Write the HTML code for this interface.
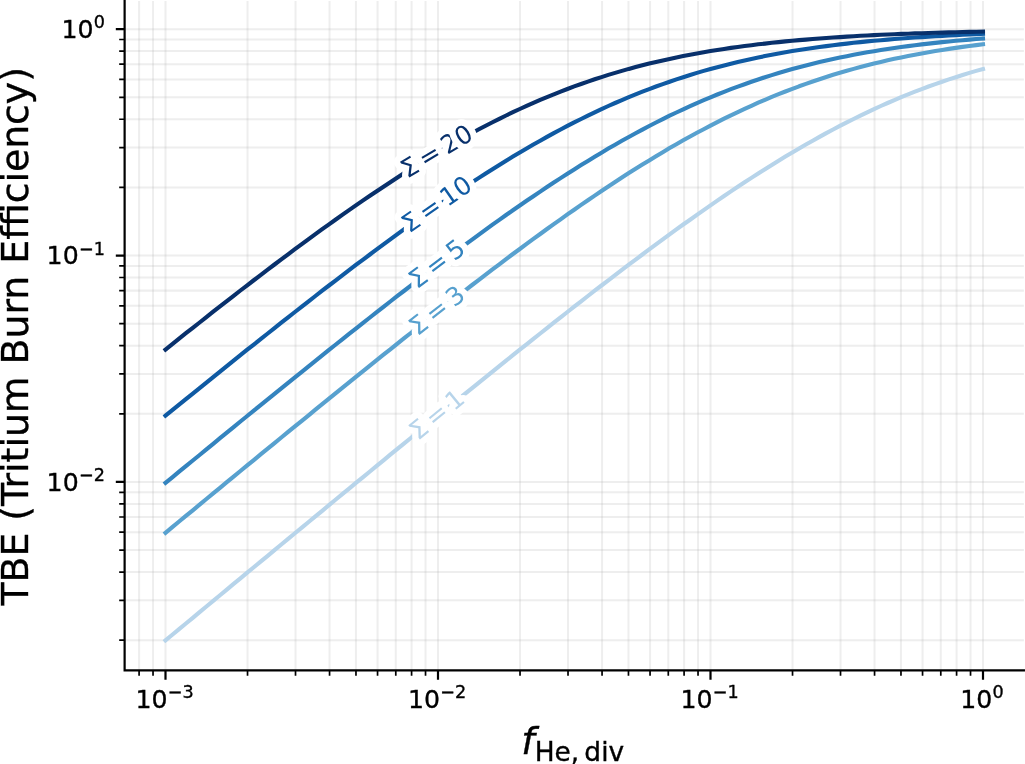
<!DOCTYPE html>
<html><head><meta charset="utf-8"><title>TBE vs f_He,div</title>
<style>html,body{margin:0;padding:0;background:#fff;overflow:hidden}svg{display:block}</style></head>
<body>
<svg width="1025" height="764" viewBox="0 0 1025 764" font-family="'DejaVu Sans','Liberation Sans',sans-serif">
<rect width="1025" height="764" fill="#fff"/>
<defs><clipPath id="ax"><rect x="124.62" y="1.00" width="899.25" height="669.40"/></clipPath></defs>
<path d="M165.50 1.00V670.40M438.00 1.00V670.40M710.50 1.00V670.40M983.00 1.00V670.40M139.09 1.00V670.40M153.03 1.00V670.40M247.53 1.00V670.40M295.52 1.00V670.40M329.56 1.00V670.40M355.97 1.00V670.40M377.55 1.00V670.40M395.79 1.00V670.40M411.59 1.00V670.40M425.53 1.00V670.40M520.03 1.00V670.40M568.02 1.00V670.40M602.06 1.00V670.40M628.47 1.00V670.40M650.05 1.00V670.40M668.29 1.00V670.40M684.09 1.00V670.40M698.03 1.00V670.40M792.53 1.00V670.40M840.52 1.00V670.40M874.56 1.00V670.40M900.97 1.00V670.40M922.55 1.00V670.40M940.79 1.00V670.40M956.59 1.00V670.40M970.53 1.00V670.40" fill="none" stroke="#b0b0b0" stroke-opacity="0.22" stroke-width="2.01"/>
<path d="M124.62 481.95H1023.88M124.62 255.55H1023.88M124.62 29.15H1023.88M124.62 640.20H1023.88M124.62 600.33H1023.88M124.62 572.04H1023.88M124.62 550.10H1023.88M124.62 532.18H1023.88M124.62 517.02H1023.88M124.62 503.89H1023.88M124.62 492.31H1023.88M124.62 413.80H1023.88M124.62 373.93H1023.88M124.62 345.64H1023.88M124.62 323.70H1023.88M124.62 305.78H1023.88M124.62 290.62H1023.88M124.62 277.49H1023.88M124.62 265.91H1023.88M124.62 187.40H1023.88M124.62 147.53H1023.88M124.62 119.24H1023.88M124.62 97.30H1023.88M124.62 79.38H1023.88M124.62 64.22H1023.88M124.62 51.09H1023.88M124.62 39.51H1023.88" fill="none" stroke="#b0b0b0" stroke-opacity="0.22" stroke-width="2.01"/>
<path d="M165.50 670.40v9.31M438.00 670.40v9.31M710.50 670.40v9.31M983.00 670.40v9.31M124.62 481.95h-8.81M124.62 255.55h-8.81M124.62 29.15h-8.81" fill="none" stroke="#000" stroke-width="2.20"/>
<path d="M139.09 670.40v5.44M153.03 670.40v5.44M247.53 670.40v5.44M295.52 670.40v5.44M329.56 670.40v5.44M355.97 670.40v5.44M377.55 670.40v5.44M395.79 670.40v5.44M411.59 670.40v5.44M425.53 670.40v5.44M520.03 670.40v5.44M568.02 670.40v5.44M602.06 670.40v5.44M628.47 670.40v5.44M650.05 670.40v5.44M668.29 670.40v5.44M684.09 670.40v5.44M698.03 670.40v5.44M792.53 670.40v5.44M840.52 670.40v5.44M874.56 670.40v5.44M900.97 670.40v5.44M922.55 670.40v5.44M940.79 670.40v5.44M956.59 670.40v5.44M970.53 670.40v5.44M124.62 640.20h-5.44M124.62 600.33h-5.44M124.62 572.04h-5.44M124.62 550.10h-5.44M124.62 532.18h-5.44M124.62 517.02h-5.44M124.62 503.89h-5.44M124.62 492.31h-5.44M124.62 413.80h-5.44M124.62 373.93h-5.44M124.62 345.64h-5.44M124.62 323.70h-5.44M124.62 305.78h-5.44M124.62 290.62h-5.44M124.62 277.49h-5.44M124.62 265.91h-5.44M124.62 187.40h-5.44M124.62 147.53h-5.44M124.62 119.24h-5.44M124.62 97.30h-5.44M124.62 79.38h-5.44M124.62 64.22h-5.44M124.62 51.09h-5.44M124.62 39.51h-5.44" fill="none" stroke="#000" stroke-width="1.70"/>
<polyline points="165.5,640.4 172.3,634.7 179.1,629.1 185.9,623.5 192.8,617.8 199.6,612.2 206.4,606.5 213.2,600.9 220.0,595.2 226.8,589.6 233.6,583.9 240.4,578.3 247.2,572.7 254.1,567.0 260.9,561.4 267.7,555.8 274.5,550.1 281.3,544.5 288.1,538.9 294.9,533.2 301.8,527.6 308.6,522.0 315.4,516.4 322.2,510.8 329.0,505.1 335.8,499.5 342.6,493.9 349.4,488.3 356.2,482.7 363.1,477.1 369.9,471.5 376.7,465.9 383.5,460.3 390.3,454.7 397.1,449.1 403.9,443.6 410.8,438.0 417.6,432.4 424.4,426.9 431.2,421.3 438.0,415.7 444.8,410.2 451.6,404.7 458.4,399.1 465.2,393.6 472.1,388.1 478.9,382.6 485.7,377.1 492.5,371.6 499.3,366.1 506.1,360.6 512.9,355.2 519.8,349.7 526.6,344.3 533.4,338.9 540.2,333.5 547.0,328.1 553.8,322.7 560.6,317.3 567.4,312.0 574.2,306.6 581.1,301.3 587.9,296.0 594.7,290.7 601.5,285.5 608.3,280.3 615.1,275.1 621.9,269.9 628.8,264.7 635.6,259.6 642.4,254.5 649.2,249.4 656.0,244.4 662.8,239.4 669.6,234.4 676.4,229.4 683.2,224.5 690.1,219.7 696.9,214.8 703.7,210.1 710.5,205.3 717.3,200.6 724.1,196.0 730.9,191.4 737.8,186.8 744.6,182.3 751.4,177.9 758.2,173.5 765.0,169.2 771.8,164.9 778.6,160.7 785.4,156.6 792.3,152.5 799.1,148.5 805.9,144.5 812.7,140.7 819.5,136.9 826.3,133.1 833.1,129.5 839.9,125.9 846.8,122.4 853.6,119.0 860.4,115.6 867.2,112.3 874.0,109.1 880.8,106.0 887.6,103.0 894.4,100.1 901.2,97.2 908.1,94.4 914.9,91.7 921.7,89.1 928.5,86.5 935.3,84.1 942.1,81.7 948.9,79.4 955.8,77.2 962.6,75.0 969.4,72.9 976.2,70.9 983.0,69.0" fill="none" stroke="#b7d4ea" stroke-width="4.10" stroke-linecap="square" stroke-linejoin="round" clip-path="url(#ax)"/>
<polyline points="165.5,532.8 172.3,527.1 179.1,521.5 185.9,515.9 192.8,510.3 199.6,504.7 206.4,499.0 213.2,493.4 220.0,487.8 226.8,482.2 233.6,476.6 240.4,471.0 247.2,465.4 254.1,459.8 260.9,454.2 267.7,448.7 274.5,443.1 281.3,437.5 288.1,431.9 294.9,426.4 301.8,420.8 308.6,415.3 315.4,409.7 322.2,404.2 329.0,398.7 335.8,393.1 342.6,387.6 349.4,382.1 356.2,376.6 363.1,371.1 369.9,365.6 376.7,360.2 383.5,354.7 390.3,349.3 397.1,343.8 403.9,338.4 410.8,333.0 417.6,327.6 424.4,322.2 431.2,316.9 438.0,311.5 444.8,306.2 451.6,300.9 458.4,295.6 465.2,290.3 472.1,285.0 478.9,279.8 485.7,274.6 492.5,269.4 499.3,264.3 506.1,259.1 512.9,254.0 519.8,249.0 526.6,243.9 533.4,238.9 540.2,234.0 547.0,229.0 553.8,224.1 560.6,219.3 567.4,214.4 574.2,209.7 581.1,204.9 587.9,200.2 594.7,195.6 601.5,191.0 608.3,186.5 615.1,182.0 621.9,177.5 628.8,173.1 635.6,168.8 642.4,164.6 649.2,160.4 656.0,156.2 662.8,152.2 669.6,148.1 676.4,144.2 683.2,140.3 690.1,136.5 696.9,132.8 703.7,129.2 710.5,125.6 717.3,122.1 724.1,118.7 730.9,115.3 737.8,112.1 744.6,108.9 751.4,105.8 758.2,102.7 765.0,99.8 771.8,96.9 778.6,94.2 785.4,91.5 792.3,88.9 799.1,86.3 805.9,83.9 812.7,81.5 819.5,79.2 826.3,77.0 833.1,74.8 839.9,72.8 846.8,70.8 853.6,68.9 860.4,67.0 867.2,65.2 874.0,63.5 880.8,61.9 887.6,60.3 894.4,58.8 901.2,57.4 908.1,56.0 914.9,54.7 921.7,53.4 928.5,52.2 935.3,51.0 942.1,49.9 948.9,48.9 955.8,47.9 962.6,46.9 969.4,46.0 976.2,45.1 983.0,44.3" fill="none" stroke="#58a1cf" stroke-width="4.10" stroke-linecap="square" stroke-linejoin="round" clip-path="url(#ax)"/>
<polyline points="165.5,482.9 172.3,477.3 179.1,471.7 185.9,466.1 192.8,460.5 199.6,455.0 206.4,449.4 213.2,443.8 220.0,438.2 226.8,432.6 233.6,427.1 240.4,421.5 247.2,416.0 254.1,410.4 260.9,404.9 267.7,399.4 274.5,393.8 281.3,388.3 288.1,382.8 294.9,377.3 301.8,371.8 308.6,366.3 315.4,360.9 322.2,355.4 329.0,349.9 335.8,344.5 342.6,339.1 349.4,333.7 356.2,328.3 363.1,322.9 369.9,317.5 376.7,312.2 383.5,306.8 390.3,301.5 397.1,296.2 403.9,291.0 410.8,285.7 417.6,280.5 424.4,275.3 431.2,270.1 438.0,264.9 444.8,259.8 451.6,254.7 458.4,249.6 465.2,244.6 472.1,239.6 478.9,234.6 485.7,229.6 492.5,224.7 499.3,219.9 506.1,215.0 512.9,210.3 519.8,205.5 526.6,200.8 533.4,196.2 540.2,191.6 547.0,187.0 553.8,182.5 560.6,178.1 567.4,173.7 574.2,169.4 581.1,165.1 587.9,160.9 594.7,156.7 601.5,152.7 608.3,148.6 615.1,144.7 621.9,140.8 628.8,137.0 635.6,133.3 642.4,129.6 649.2,126.0 656.0,122.5 662.8,119.1 669.6,115.7 676.4,112.5 683.2,109.3 690.1,106.2 696.9,103.1 703.7,100.2 710.5,97.3 717.3,94.5 724.1,91.8 730.9,89.2 737.8,86.6 744.6,84.2 751.4,81.8 758.2,79.5 765.0,77.2 771.8,75.1 778.6,73.0 785.4,71.0 792.3,69.1 799.1,67.2 805.9,65.5 812.7,63.7 819.5,62.1 826.3,60.5 833.1,59.0 839.9,57.6 846.8,56.2 853.6,54.8 860.4,53.6 867.2,52.3 874.0,51.2 880.8,50.1 887.6,49.0 894.4,48.0 901.2,47.0 908.1,46.1 914.9,45.2 921.7,44.4 928.5,43.6 935.3,42.9 942.1,42.1 948.9,41.5 955.8,40.8 962.6,40.2 969.4,39.6 976.2,39.0 983.0,38.5" fill="none" stroke="#3484bf" stroke-width="4.10" stroke-linecap="square" stroke-linejoin="round" clip-path="url(#ax)"/>
<polyline points="165.5,415.7 172.3,410.2 179.1,404.7 185.9,399.1 192.8,393.6 199.6,388.1 206.4,382.6 213.2,377.1 220.0,371.6 226.8,366.1 233.6,360.6 240.4,355.2 247.2,349.7 254.1,344.3 260.9,338.9 267.7,333.5 274.5,328.1 281.3,322.7 288.1,317.3 294.9,312.0 301.8,306.6 308.6,301.3 315.4,296.0 322.2,290.7 329.0,285.5 335.8,280.3 342.6,275.1 349.4,269.9 356.2,264.7 363.1,259.6 369.9,254.5 376.7,249.4 383.5,244.4 390.3,239.4 397.1,234.4 403.9,229.4 410.8,224.5 417.6,219.7 424.4,214.8 431.2,210.1 438.0,205.3 444.8,200.6 451.6,196.0 458.4,191.4 465.2,186.8 472.1,182.3 478.9,177.9 485.7,173.5 492.5,169.2 499.3,164.9 506.1,160.7 512.9,156.6 519.8,152.5 526.6,148.5 533.4,144.5 540.2,140.7 547.0,136.9 553.8,133.1 560.6,129.5 567.4,125.9 574.2,122.4 581.1,119.0 587.9,115.6 594.7,112.3 601.5,109.1 608.3,106.0 615.1,103.0 621.9,100.1 628.8,97.2 635.6,94.4 642.4,91.7 649.2,89.1 656.0,86.5 662.8,84.1 669.6,81.7 676.4,79.4 683.2,77.2 690.1,75.0 696.9,72.9 703.7,70.9 710.5,69.0 717.3,67.2 724.1,65.4 730.9,63.7 737.8,62.0 744.6,60.5 751.4,58.9 758.2,57.5 765.0,56.1 771.8,54.8 778.6,53.5 785.4,52.3 792.3,51.1 799.1,50.0 805.9,49.0 812.7,48.0 819.5,47.0 826.3,46.1 833.1,45.2 839.9,44.4 846.8,43.6 853.6,42.8 860.4,42.1 867.2,41.4 874.0,40.8 880.8,40.2 887.6,39.6 894.4,39.0 901.2,38.5 908.1,38.0 914.9,37.5 921.7,37.1 928.5,36.6 935.3,36.2 942.1,35.9 948.9,35.5 955.8,35.2 962.6,34.8 969.4,34.5 976.2,34.2 983.0,33.9" fill="none" stroke="#0f5aa3" stroke-width="4.10" stroke-linecap="square" stroke-linejoin="round" clip-path="url(#ax)"/>
<polyline points="165.5,349.5 172.3,344.1 179.1,338.6 185.9,333.2 192.8,327.8 199.6,322.5 206.4,317.1 213.2,311.7 220.0,306.4 226.8,301.1 233.6,295.8 240.4,290.5 247.2,285.3 254.1,280.0 260.9,274.8 267.7,269.7 274.5,264.5 281.3,259.4 288.1,254.3 294.9,249.2 301.8,244.2 308.6,239.1 315.4,234.2 322.2,229.2 329.0,224.3 335.8,219.5 342.6,214.6 349.4,209.9 356.2,205.1 363.1,200.4 369.9,195.8 376.7,191.2 383.5,186.7 390.3,182.2 397.1,177.7 403.9,173.3 410.8,169.0 417.6,164.7 424.4,160.5 431.2,156.4 438.0,152.3 444.8,148.3 451.6,144.4 458.4,140.5 465.2,136.7 472.1,133.0 478.9,129.3 485.7,125.7 492.5,122.2 499.3,118.8 506.1,115.5 512.9,112.2 519.8,109.0 526.6,105.9 533.4,102.9 540.2,99.9 547.0,97.1 553.8,94.3 560.6,91.6 567.4,89.0 574.2,86.4 581.1,84.0 587.9,81.6 594.7,79.3 601.5,77.1 608.3,74.9 615.1,72.9 621.9,70.9 628.8,68.9 635.6,67.1 642.4,65.3 649.2,63.6 656.0,62.0 662.8,60.4 669.6,58.9 676.4,57.4 683.2,56.1 690.1,54.7 696.9,53.5 703.7,52.2 710.5,51.1 717.3,50.0 724.1,48.9 730.9,47.9 737.8,47.0 744.6,46.0 751.4,45.2 758.2,44.3 765.0,43.6 771.8,42.8 778.6,42.1 785.4,41.4 792.3,40.8 799.1,40.1 805.9,39.6 812.7,39.0 819.5,38.5 826.3,38.0 833.1,37.5 839.9,37.1 846.8,36.6 853.6,36.2 860.4,35.8 867.2,35.5 874.0,35.1 880.8,34.8 887.6,34.5 894.4,34.2 901.2,33.9 908.1,33.7 914.9,33.4 921.7,33.2 928.5,33.0 935.3,32.8 942.1,32.6 948.9,32.4 955.8,32.2 962.6,32.0 969.4,31.9 976.2,31.7 983.0,31.6" fill="none" stroke="#08306b" stroke-width="4.10" stroke-linecap="square" stroke-linejoin="round" clip-path="url(#ax)"/>
<path d="M124.62 1.00V670.40H1023.88" fill="none" stroke="#000" stroke-width="2.20" stroke-linecap="square" stroke-linejoin="miter"/>
<text transform="translate(436.50 414.34) rotate(-39.164)" x="-31.35 -10.58 15.37" y="9" font-size="25.18" fill="#b7d4ea" stroke="#fff" stroke-width="12.59" stroke-linejoin="round" paint-order="stroke fill">Σ=1</text>
<text transform="translate(436.50 310.11) rotate(-38.089)" x="-31.35 -10.58 15.37" y="9" font-size="25.18" fill="#58a1cf" stroke="#fff" stroke-width="12.59" stroke-linejoin="round" paint-order="stroke fill">Σ=3</text>
<text transform="translate(436.50 263.52) rotate(-37.064)" x="-31.35 -10.58 15.37" y="9" font-size="25.18" fill="#3484bf" stroke="#fff" stroke-width="12.59" stroke-linejoin="round" paint-order="stroke fill">Σ=5</text>
<text transform="translate(436.50 203.92) rotate(-34.697)" x="-39.48 -18.71 7.24 23.23" y="9" font-size="25.18" fill="#0f5aa3" stroke="#fff" stroke-width="12.59" stroke-linejoin="round" paint-order="stroke fill">Σ=10</text>
<text transform="translate(436.50 150.93) rotate(-30.687)" x="-39.48 -18.71 7.24 23.23" y="9" font-size="25.18" fill="#08306b" stroke="#fff" stroke-width="12.59" stroke-linejoin="round" paint-order="stroke fill">Σ=20</text>
<g transform="translate(135.41 707.88)" fill="#000" stroke="#000" stroke-width="0.35"><text font-size="25.18" x="0 16.02" y="0">10</text><text font-size="17.63" x="32.28 47.05" y="-9.64">−3</text></g>
<g transform="translate(407.91 707.88)" fill="#000" stroke="#000" stroke-width="0.35"><text font-size="25.18" x="0 16.02" y="0">10</text><text font-size="17.63" x="32.28 47.05" y="-9.64">−2</text></g>
<g transform="translate(680.41 707.88)" fill="#000" stroke="#000" stroke-width="0.35"><text font-size="25.18" x="0 16.02" y="0">10</text><text font-size="17.63" x="32.28 47.05" y="-9.64">−1</text></g>
<g transform="translate(960.34 707.88)" fill="#000" stroke="#000" stroke-width="0.35"><text font-size="25.18" x="0 16.02" y="0">10</text><text font-size="17.63" x="32.28" y="-9.64">0</text></g>
<g transform="translate(46.62 490.76)" fill="#000" stroke="#000" stroke-width="0.35"><text font-size="25.18" x="0 16.02" y="0">10</text><text font-size="17.63" x="32.28 47.05" y="-9.64">−2</text></g>
<g transform="translate(46.62 264.36)" fill="#000" stroke="#000" stroke-width="0.35"><text font-size="25.18" x="0 16.02" y="0">10</text><text font-size="17.63" x="32.28 47.05" y="-9.64">−1</text></g>
<g transform="translate(61.48 37.96)" fill="#000" stroke="#000" stroke-width="0.35"><text font-size="25.18" x="0 16.02" y="0">10</text><text font-size="17.63" x="32.28" y="-9.64">0</text></g>
<text fill="#000" stroke="#000" stroke-width="0.35"><tspan font-size="37.77" font-style="oblique" x="521.37" y="754.36">f</tspan><tspan font-size="26.44" x="534.67 554.55 570.82 584.37 601.15 608.50" y="760.55">He,div</tspan></text>
<text transform="translate(28.22 336.30) rotate(-90)" font-size="37.77" text-anchor="middle" fill="#000" stroke="#000" stroke-width="0.35">TBE (Tritium Burn Efficiency)</text>
</svg>
</body></html>
